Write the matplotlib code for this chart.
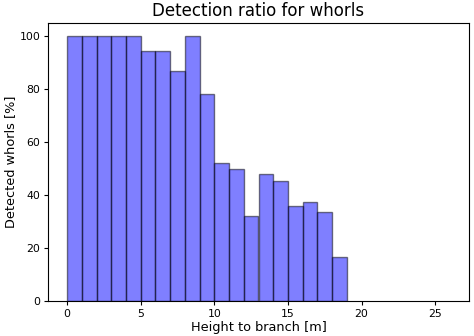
import matplotlib
matplotlib.use("Agg")
import matplotlib.pyplot as plt

bin_left = list(range(0, 19))
ratio = [100, 100, 100, 100, 100, 94.5, 94.5, 87, 100, 78,
         52, 50, 32, 48, 45.5, 36, 37.5, 33.5, 16.5]

fig = plt.figure(figsize=(4.74, 3.36), dpi=100)
ax = fig.add_axes([48/474, 1 - 301/336, (469-48)/474, (301-23)/336])
ax.bar(bin_left, ratio, width=1, align='edge', color='blue', alpha=0.5,
       edgecolor='black', linewidth=1)
ax.set_xlim(-1.3, 27.3)
ax.set_ylim(0, 105)
ax.set_xticks([0, 5, 10, 15, 20, 25])
ax.set_yticks([0, 20, 40, 60, 80, 100])
ax.tick_params(labelsize=7.8, length=3, pad=2.5)
for s in ax.spines.values():
    s.set_linewidth(0.8)
ax.set_title("Detection ratio for whorls", fontsize=12, pad=5)
ax.set_xlabel("Height to branch [m]", fontsize=9.3, labelpad=2)
ax.set_ylabel("Detected whorls [%]", fontsize=9.3, labelpad=1.5)
fig.savefig("out.png", dpi=100)
